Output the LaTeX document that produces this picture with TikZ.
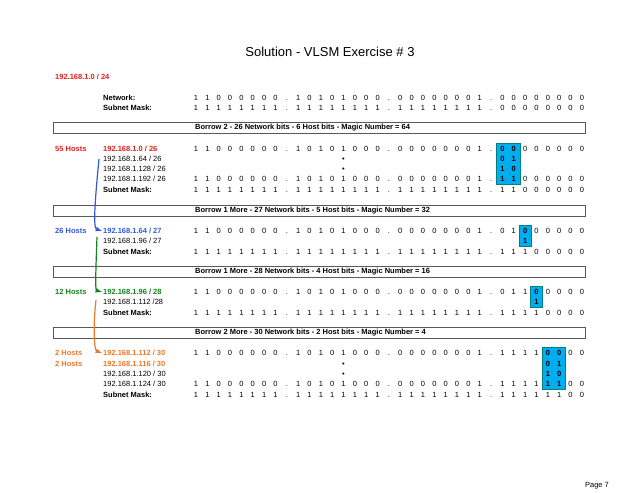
\documentclass[tikz,border=0pt]{standalone}
\usepackage{fontspec}
\setmainfont{Liberation Sans}
\begin{document}
\definecolor{myred}{RGB}{230,30,30}
\definecolor{myblue}{RGB}{50,90,220}
\definecolor{mygreen}{RGB}{20,130,30}
\definecolor{myorange}{RGB}{240,120,40}
\begin{tikzpicture}[x=1pt,y=-1pt,
  t/.style={font=\fontsize{7.5}{8}\selectfont,inner sep=0pt,anchor=west},
  tb/.style={t,font=\fontsize{7.5}{8}\selectfont\bfseries},
  bit/.style={font=\fontsize{7.5}{8}\selectfont,inner sep=0pt,anchor=base,yshift=-2.7pt},
  bbit/.style={bit,font=\fontsize{7.5}{8}\selectfont\bfseries},
  hl/.style={fill=cyan,draw=teal,line width=0.6pt},
  bar/.style={draw=gray!70!black,line width=0.8pt,fill=white},
  arr/.style={line width=1.2pt,->,>=latex}]
\useasboundingbox (0,0) rectangle (638,493);
\newcommand\bitrow[4]{%
  \foreach \b [count=\i from 0] in {#2}{%
    \ifnum\i<#3\relax \node[bit] at (196+\i*11.35,#1) {\b};%
    \else\ifnum\i>#4\relax \node[bit] at (196+\i*11.35,#1) {\b};%
    \else \node[bbit] at (196+\i*11.35,#1) {\b};\fi\fi}}
\newcommand\bx[1]{196+#1*11.35}
\node[font=\fontsize{13}{15}\selectfont] (title) at (330,52) {Solution - VLSM Exercise \# 3};
\node[tb,text=myred] (net) at (55,77) {192.168.1.0 / 24};
\node[tb] (nw) at (103,98) {Network:};
\node[tb] (sm0) at (103,108) {Subnet Mask:};
\bitrow{98}{1,1,0,0,0,0,0,0,.,1,0,1,0,1,0,0,0,.,0,0,0,0,0,0,0,1,.,0,0,0,0,0,0,0,0}{99}{99}
\bitrow{108}{1,1,1,1,1,1,1,1,.,1,1,1,1,1,1,1,1,.,1,1,1,1,1,1,1,1,.,0,0,0,0,0,0,0,0}{99}{99}
% bars
\foreach \y/\s in {128/Borrow 2 - 26 Network bits - 6 Host bits - Magic Number = 64,
                   211/Borrow 1 More - 27 Network bits - 5 Host bits - Magic Number = 32,
                   272/Borrow 1 More - 28 Network bits - 4 Host bits - Magic Number = 16,
                   333/Borrow 2 More - 30 Network bits - 2 Host bits - Magic Number = 4}{
  \draw[bar] (53,\y-5.5) rectangle (585,\y+5.5);
  \node[tb] at (195,\y) {\s};}
% highlight boxes
\draw[hl] ({\bx{27}-6},143) rectangle ({\bx{28}+6},184.5);
\draw[hl] ({\bx{29}-6},225) rectangle ({\bx{29}+6},246.5);
\draw[hl] ({\bx{30}-6},286) rectangle ({\bx{30}+6},307.5);
\draw[hl] ({\bx{31}-6},347) rectangle ({\bx{32}+6},389.5);
% section 1
\node[tb,text=myred] (h55) at (55,149) {55 Hosts};
\node[tb,text=myred] (s1a) at (103,149) {192.168.1.0 / 26};
\node[t] (s1b) at (103,159) {192.168.1.64 / 26};
\node[t] (s1c) at (103,169) {192.168.1.128 / 26};
\node[t] (s1d) at (103,179) {192.168.1.192 / 26};
\node[tb] (sm1) at (103,190) {Subnet Mask:};
\bitrow{149}{1,1,0,0,0,0,0,0,.,1,0,1,0,1,0,0,0,.,0,0,0,0,0,0,0,1,.,0,0,0,0,0,0,0,0}{27}{28}
\node[bit] at ({\bx{13}},159) {•};\node[bit] at ({\bx{13}},169) {•};
\node[bbit] at ({\bx{27}},159) {0};\node[bbit] at ({\bx{28}},159) {1};
\node[bbit] at ({\bx{27}},169) {1};\node[bbit] at ({\bx{28}},169) {0};
\bitrow{179}{1,1,0,0,0,0,0,0,.,1,0,1,0,1,0,0,0,.,0,0,0,0,0,0,0,1,.,1,1,0,0,0,0,0,0}{27}{28}
\bitrow{190}{1,1,1,1,1,1,1,1,.,1,1,1,1,1,1,1,1,.,1,1,1,1,1,1,1,1,.,1,1,0,0,0,0,0,0}{99}{99}
% section 2
\node[tb,text=myblue] (h26) at (55,231) {26 Hosts};
\node[tb,text=myblue] (s2a) at (103,231) {192.168.1.64 / 27};
\node[t] (s2b) at (103,241) {192.168.1.96 / 27};
\node[tb] (sm2) at (103,252) {Subnet Mask:};
\bitrow{231}{1,1,0,0,0,0,0,0,.,1,0,1,0,1,0,0,0,.,0,0,0,0,0,0,0,1,.,0,1,0,0,0,0,0,0}{29}{29}
\node[bbit] at ({\bx{29}},241) {1};
\bitrow{252}{1,1,1,1,1,1,1,1,.,1,1,1,1,1,1,1,1,.,1,1,1,1,1,1,1,1,.,1,1,1,0,0,0,0,0}{99}{99}
% section 3
\node[tb,text=mygreen] (h12) at (55,292) {12 Hosts};
\node[tb,text=mygreen] (s3a) at (103,292) {192.168.1.96 / 28};
\node[t] (s3b) at (103,302) {192.168.1.112 /28};
\node[tb] (sm3) at (103,313) {Subnet Mask:};
\bitrow{292}{1,1,0,0,0,0,0,0,.,1,0,1,0,1,0,0,0,.,0,0,0,0,0,0,0,1,.,0,1,1,0,0,0,0,0}{30}{30}
\node[bbit] at ({\bx{30}},302) {1};
\bitrow{313}{1,1,1,1,1,1,1,1,.,1,1,1,1,1,1,1,1,.,1,1,1,1,1,1,1,1,.,1,1,1,1,0,0,0,0}{99}{99}
% section 4
\node[tb,text=myorange] (h2a) at (55,353) {2 Hosts};
\node[tb,text=myorange] (h2b) at (55,364) {2 Hosts};
\node[tb,text=myorange] (s4a) at (103,353) {192.168.1.112 / 30};
\node[tb,text=myorange] (s4b) at (103,364) {192.168.1.116 / 30};
\node[t] (s4c) at (103,374) {192.168.1.120 / 30};
\node[t] (s4d) at (103,384) {192.168.1.124 / 30};
\node[tb] (sm4) at (103,395) {Subnet Mask:};
\bitrow{353}{1,1,0,0,0,0,0,0,.,1,0,1,0,1,0,0,0,.,0,0,0,0,0,0,0,1,.,1,1,1,1,0,0,0,0}{31}{32}
\node[bit] at ({\bx{13}},364) {•};\node[bit] at ({\bx{13}},374) {•};
\node[bbit] at ({\bx{31}},364) {0};\node[bbit] at ({\bx{32}},364) {1};
\node[bbit] at ({\bx{31}},374) {1};\node[bbit] at ({\bx{32}},374) {0};
\bitrow{384}{1,1,0,0,0,0,0,0,.,1,0,1,0,1,0,0,0,.,0,0,0,0,0,0,0,1,.,1,1,1,1,1,1,0,0}{31}{32}
\bitrow{395}{1,1,1,1,1,1,1,1,.,1,1,1,1,1,1,1,1,.,1,1,1,1,1,1,1,1,.,1,1,1,1,1,1,0,0}{99}{99}
% arrows
\draw[arr,myblue] ([xshift=-4pt]s1b.west) .. controls (95,200) and (93,228) .. ([xshift=-1pt]s2a.west);
\draw[arr,mygreen] ([xshift=-6pt,yshift=4pt]s2b.west) .. controls (96,265) and (95,290) .. ([xshift=-1pt]s3a.west);
\draw[arr,myorange] ([xshift=-7pt,yshift=2pt]s3b.west) .. controls (93,325) and (94,350) .. ([xshift=-1pt]s4a.west);
\node[font=\fontsize{7.5}{8}\selectfont] (page) at (597,486) {Page 7};
\end{tikzpicture}
\end{document}
